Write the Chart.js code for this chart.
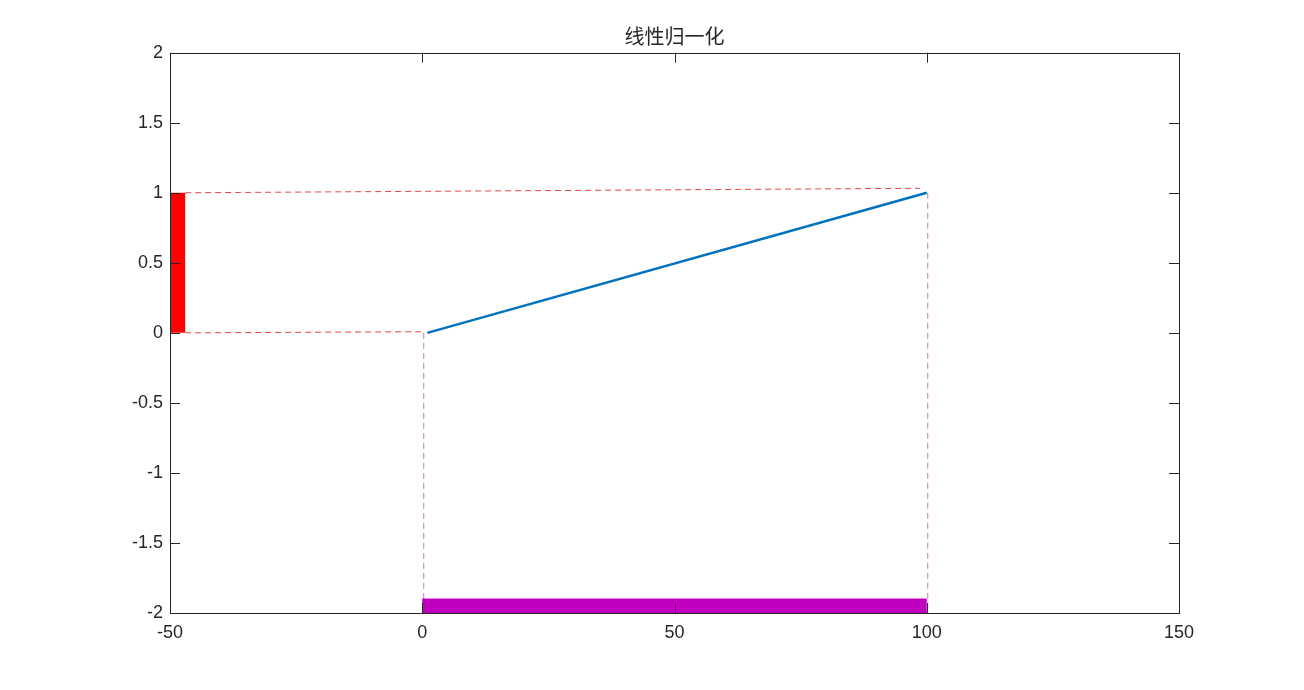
<!DOCTYPE html>
<html>
<head>
<meta charset="utf-8">
<script src="https://cdn.jsdelivr.net/npm/chart.js@4"></script>
<style>
  html, body { margin: 0; padding: 0; background: #ffffff; }
  #wrap { width: 1304px; height: 690px; }
</style>
</head>
<body>
<div id="wrap"><canvas id="normChart" width="1304" height="690"></canvas></div>
<script>
// data
const chartTitle = "线性归一化";
const xTicks = [-50, 0, 50, 100, 150];
const yTicks = [-2, -1.5, -1, -0.5, 0, 0.5, 1, 1.5, 2];

// normalised line (x = 1..100 -> 0..1)
const lineX = [1, 100];
const lineY = [0, 1];

// target range bar on the y side
const redBarX = [-48.5, -48.5];
const redBarY = [0, 1];

// source range bar on the x side
const magBarX = [0, 100];
const magBarY = [-1.95, -1.95];

// guide lines
const redTopX = [-47, 98.7];
const redTopY = [1, 1.032];
const redBotX = [-47, -0.3];
const redBotY = [0, 0.008];
const magLeftX = [0.3, 0.3];
const magLeftY = [0, -2];
const magRightX = [100.2, 100.2];
const magRightY = [1, -2];

const toPoints = (xs, ys) => xs.map((x, i) => ({ x: x, y: ys[i] }));

const axisColor = "#262626";
const tickFont = { family: "'Liberation Sans', Arial, sans-serif", size: 18 };

// box + inward ticks + title over the axes, like the original plot
const boxPlugin = {
  id: "boxTicks",
  afterDatasetsDraw(chart) {
    const { ctx, chartArea: a, scales } = chart;
    ctx.save();
    ctx.strokeStyle = axisColor;
    ctx.lineWidth = 1;
    ctx.beginPath();
    xTicks.forEach((v) => {
      const px = Math.round(scales.x.getPixelForValue(v)) + 0.5;
      ctx.moveTo(px, a.bottom);
      ctx.lineTo(px, a.bottom - 10);
      ctx.moveTo(px, a.top);
      ctx.lineTo(px, a.top + 10);
    });
    yTicks.forEach((v) => {
      const py = Math.round(scales.y.getPixelForValue(v)) + 0.5;
      ctx.moveTo(a.left, py);
      ctx.lineTo(a.left + 10, py);
      ctx.moveTo(a.right, py);
      ctx.lineTo(a.right - 10, py);
    });
    ctx.stroke();
    ctx.strokeRect(Math.round(a.left) + 0.5, Math.round(a.top) + 0.5,
      Math.round(a.right - a.left), Math.round(a.bottom - a.top));

    ctx.fillStyle = axisColor;
    ctx.font = "normal 20px 'Noto Sans CJK SC', sans-serif";
    ctx.textAlign = "center";
    ctx.textBaseline = "middle";
    ctx.fillText(chartTitle, (a.left + a.right) / 2, 36);
    ctx.restore();
  },
};

function lineSet(xs, ys, color, width, dash, order) {
  return {
    data: toPoints(xs, ys),
    borderColor: color,
    backgroundColor: color,
    borderWidth: width,
    borderDash: dash,
    borderCapStyle: "butt",
    pointRadius: 0,
    pointHoverRadius: 0,
    fill: false,
    tension: 0,
    clip: false,
    order: order,
  };
}

new Chart(document.getElementById("normChart"), {
  type: "line",
  data: {
    datasets: [
      lineSet(lineX, lineY, "#0072BD", 2.5, [], 1),
      lineSet(redBarX, redBarY, "#FF0000", 15, [], 2),
      lineSet(magBarX, magBarY, "#BF00BF", 15, [], 2),
      lineSet(redTopX, redTopY, "#e04848", 1, [6, 4], 5),
      lineSet(redBotX, redBotY, "#e04848", 1, [6, 4], 5),
      lineSet(magLeftX, magLeftY, "#d86cc8", 1, [6, 4], 5),
      lineSet(magRightX, magRightY, "#d86cc8", 1, [6, 4], 5),
    ],
  },
  options: {
    responsive: false,
    animation: false,
    events: [],
    layout: { padding: { left: 0, right: 125, top: 52.7, bottom: 0 } },
    plugins: {
      legend: { display: false },
      tooltip: { enabled: false },
      title: { display: false },
    },
    scales: {
      x: {
        type: "linear",
        min: -50,
        max: 150,
        afterBuildTicks: (s) => { s.ticks = xTicks.map((v) => ({ value: v })); },
        ticks: {
          color: axisColor,
          font: tickFont,
          padding: 9,
          maxRotation: 0,
          callback: (v) => String(v),
        },
        grid: { display: false, drawTicks: false },
        border: { display: false },
        afterFit: (s) => { s.height = 77; },
      },
      y: {
        type: "linear",
        min: -2,
        max: 2,
        afterBuildTicks: (s) => { s.ticks = yTicks.map((v) => ({ value: v })); },
        ticks: {
          color: axisColor,
          font: tickFont,
          padding: 7,
          callback: (v) => String(v),
        },
        grid: { display: false, drawTicks: false },
        border: { display: false },
        afterFit: (s) => { s.width = 170; },
      },
    },
  },
  plugins: [boxPlugin],
});
</script>
</body>
</html>
